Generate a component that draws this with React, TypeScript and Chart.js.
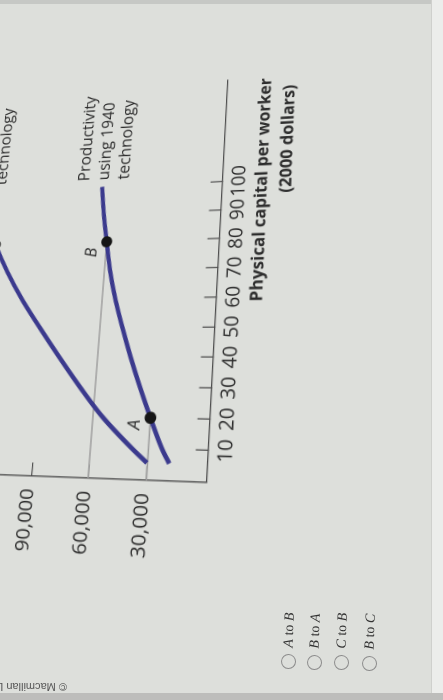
import React, { useEffect, useRef } from "react";
import { Chart, registerables } from "chart.js";

Chart.register(...registerables);

// ---------- data ----------
const capital1940 = [5.5, 10, 20, 30, 40, 50, 60, 70, 80, 90, 100];
const productivity1940 = [19000, 23000, 30000, 36500, 42500, 48000, 53000, 57000, 60000, 62800, 65000];
const capital2000 = [5.5, 10, 20, 30, 40, 50, 60, 70, 80, 90, 100];
const productivity2000 = [30300, 38500, 55000, 68500, 81000, 93000, 104500, 114500, 123000, 130000, 135000];
const pointNames = ["A", "B", "C"];
const pointCapital = [20, 80, 80];
const pointProductivity = [30000, 60000, 123000];
const guideLevels = [30000, 60000];
const guideEnds = [20, 80];
const xTickValues = [10, 20, 30, 40, 50, 60, 70, 80, 90, 100];
const yTickValues = [30000, 60000, 90000];
const xAxisMax = 137;
const yAxisMax = 140000;
const xTitleLines = ["Physical capital per worker", "(2000 dollars)"];
const label1940 = ["Productivity", "using 1940", "technology"];
const label2000 = ["Productivity", "using 2000", "technology"];
const answers = [
  ["A", "B"],
  ["B", "A"],
  ["C", "B"],
  ["B", "C"],
];

// ---------- layout (unrotated frame, then projected onto the photo) ----------
const FW = 760;
const FH = 550;
const PAD_TOP = 11.6;
const PAD_RIGHT = 109.7;
const Y_AXIS_W = 248;
const X_AXIS_H = 266.4;

// frame anchor -> screen anchor
const FRAME_ANCHORS = [
  [248, 283.6],
  [650.3, 283.6],
  [248, 108.7],
  [483, 167],
];
const SCREEN_ANCHORS = [
  [206.5, 482.5],
  [227.7, 80],
  [31.7, 476],
  [106.7, 241.7],
];

const ANSWER_POS = [
  [287.5, 661.7],
  [314.2, 663.3],
  [340.8, 663.3],
  [369.2, 664.2],
];

function homography(src: number[][], dst: number[][]): number[] {
  const A: number[][] = [];
  const b: number[] = [];
  for (let i = 0; i < 4; i++) {
    const [u, v] = src[i];
    const [x, y] = dst[i];
    A.push([u, v, 1, 0, 0, 0, -u * x, -v * x]);
    b.push(x);
    A.push([0, 0, 0, u, v, 1, -u * y, -v * y]);
    b.push(y);
  }
  const n = 8;
  for (let c = 0; c < n; c++) {
    let p = c;
    for (let r = c + 1; r < n; r++) if (Math.abs(A[r][c]) > Math.abs(A[p][c])) p = r;
    [A[c], A[p]] = [A[p], A[c]];
    [b[c], b[p]] = [b[p], b[c]];
    for (let r = 0; r < n; r++) {
      if (r === c) continue;
      const f = A[r][c] / A[c][c];
      for (let k = c; k < n; k++) A[r][k] -= f * A[c][k];
      b[r] -= f * b[c];
    }
  }
  return b.map((val, i) => val / A[i][i]);
}

const FONT = '"Open Sans", "Noto Sans", sans-serif';

const annotationPlugin = {
  id: "annotations",
  afterDatasetsDraw(chart: any) {
    const { ctx, chartArea } = chart;
    const xs = chart.scales.x;
    const ys = chart.scales.y;
    ctx.save();
    ctx.fillStyle = "#2c2c2c";
    // point names
    ctx.font = `italic 17px ${FONT}`;
    ctx.textAlign = "center";
    ctx.textBaseline = "middle";
    pointNames.forEach((name, i) => {
      const px = xs.getPixelForValue(pointCapital[i]);
      const py = ys.getPixelForValue(pointProductivity[i]);
      const dx = i === 0 ? -7 : -11;
      ctx.fillText(name, px + dx, py - 15);
    });
    // curve labels
    ctx.font = `17px ${FONT}`;
    ctx.textAlign = "left";
    const drawLabel = (lines: string[], vx: number, vy: number) => {
      const px = xs.getPixelForValue(vx) + 7;
      const py = ys.getPixelForValue(vy);
      lines.forEach((t, i) => ctx.fillText(t, px, py + 2 + (i - 1) * 21.5));
    };
    const l1 = capital1940.length - 1;
    const l2 = capital2000.length - 1;
    drawLabel(label1940, capital1940[l1], productivity1940[l1]);
    drawLabel(label2000, capital2000[l2], productivity2000[l2]);
    // x-axis title
    ctx.font = `bold 17px ${FONT}`;
    ctx.textAlign = "right";
    ctx.fillText(xTitleLines[0], chartArea.right - 1, chartArea.bottom + 40);
    ctx.fillText(xTitleLines[1], chartArea.right - 10, chartArea.bottom + 64);
    ctx.restore();
  },
};

const zeroPadding = (scale: any) => {
  scale.paddingTop = 0;
  scale.paddingBottom = 0;
  scale.paddingLeft = 0;
  scale.paddingRight = 0;
};

export default function App() {
  const ref = useRef<HTMLCanvasElement>(null);

  useEffect(() => {
    const canvas = ref.current;
    if (!canvas) return;
    const curve = (xs: number[], ys: number[]) => xs.map((x, i) => ({ x, y: ys[i] }));
    const curveStyle = {
      showLine: true,
      borderColor: "#3b3a8d",
      borderWidth: 4.5,
      pointRadius: 0,
      cubicInterpolationMode: "monotone",
      borderCapStyle: "butt",
      order: 1,
    };
    const chart = new Chart(canvas, {
      type: "scatter",
      data: {
        datasets: [
          {
            data: pointCapital.map((x, i) => ({ x, y: pointProductivity[i] })),
            showLine: false,
            pointRadius: 5.8,
            pointBackgroundColor: "#161616",
            pointBorderWidth: 0,
            order: 0,
          },
          { data: curve(capital1940, productivity1940), ...curveStyle },
          { data: curve(capital2000, productivity2000), ...curveStyle },
          ...guideLevels.map((lvl, i) => ({
            data: [
              { x: 0, y: lvl },
              { x: guideEnds[i], y: lvl },
            ],
            showLine: true,
            borderColor: "#9d9d9d",
            borderWidth: 1.5,
            pointRadius: 0,
            order: 2,
          })),
        ],
      },
      options: {
        animation: false,
        responsive: false,
        devicePixelRatio: 2,
        layout: { padding: { top: PAD_TOP, right: PAD_RIGHT, bottom: 0, left: 0 } },
        plugins: { legend: { display: false }, tooltip: { enabled: false } },
        events: [],
        scales: {
          x: {
            type: "linear",
            position: "bottom",
            min: 0,
            max: xAxisMax,
            afterBuildTicks: (scale: any) => {
              scale.ticks = xTickValues.map((value) => ({ value }));
            },
            afterFit: (scale: any) => {
              scale.height = X_AXIS_H;
              zeroPadding(scale);
            },
            ticks: {
              autoSkip: false,
              maxRotation: 0,
              minRotation: 0,
              padding: 18,
              color: "#2c2c2c",
              font: { family: FONT, size: 19 },
              callback: (v: any) => String(v),
            },
            grid: {
              drawOnChartArea: false,
              drawTicks: true,
              tickLength: -12,
              color: "#4d4d4d",
              lineWidth: 1.2,
            },
            border: { display: true, color: "#4d4d4d", width: 1.3 },
          },
          y: {
            type: "linear",
            position: "left",
            min: 0,
            max: yAxisMax,
            afterBuildTicks: (scale: any) => {
              scale.ticks = yTickValues.map((value) => ({ value }));
            },
            afterFit: (scale: any) => {
              scale.width = Y_AXIS_W;
              zeroPadding(scale);
            },
            ticks: {
              padding: 25,
              labelOffset: -2,
              color: "#2c2c2c",
              font: { family: FONT, size: 19 },
              callback: (v: any) => Number(v).toLocaleString("en-US"),
            },
            grid: {
              drawOnChartArea: false,
              drawTicks: true,
              tickLength: -13,
              color: "#4d4d4d",
              lineWidth: 1.2,
            },
            border: { display: true, color: "#4d4d4d", width: 1.3 },
          },
        },
      },
      plugins: [annotationPlugin],
    } as any);
    return () => chart.destroy();
  }, []);

  const h = homography(FRAME_ANCHORS, SCREEN_ANCHORS);
  const m = `matrix3d(${h[0]},${h[3]},0,${h[6]},${h[1]},${h[4]},0,${h[7]},0,0,1,0,${h[2]},${h[5]},0,1)`;

  return (
    <div
      style={{
        position: "fixed",
        left: 0,
        top: 0,
        width: 443,
        height: 700,
        overflow: "hidden",
        background: "#dddfdb",
      }}
    >
      <div
        style={{
          position: "absolute",
          left: 0,
          top: 0,
          width: FW,
          height: FH,
          transformOrigin: "0 0",
          transform: m,
        }}
      >
        <canvas ref={ref} width={FW} height={FH} style={{ display: "block", width: FW, height: FH }} />
      </div>

      {answers.map(([a, b], i) => (
        <div
          key={i}
          style={{
            position: "absolute",
            left: ANSWER_POS[i][0],
            top: ANSWER_POS[i][1],
            width: 0,
            height: 0,
            transformOrigin: "0 0",
            transform: "rotate(-88deg)",
          }}
        >
          <div
            style={{
              position: "absolute",
              left: -7.5,
              top: -7.5,
              width: 15,
              height: 15,
              borderRadius: "50%",
              border: "1.3px solid #8c8c8c",
              boxSizing: "border-box",
            }}
          />
          <div
            style={{
              position: "absolute",
              left: 14.5,
              top: -9,
              whiteSpace: "nowrap",
              font: '14px "Liberation Serif", serif',
              lineHeight: "18px",
              color: "#333",
            }}
          >
            <i>{a}</i> to <i>{b}</i>
          </div>
        </div>
      ))}

      <div
        style={{
          position: "absolute",
          left: 67,
          top: 693,
          transformOrigin: "0 0",
          transform: "rotate(180deg)",
          whiteSpace: "nowrap",
          font: '11px "Liberation Sans", sans-serif',
          lineHeight: "12px",
          color: "#555",
        }}
      >
        © Macmillan Learning
      </div>

      <div style={{ position: "absolute", left: 0, top: 0, width: 443, height: 4, background: "#c6c8c5" }} />
      <div
        style={{
          position: "absolute",
          left: 431,
          top: 0,
          width: 12,
          height: 700,
          background: "#ecedeb",
          borderLeft: "1px solid #cfd0cd",
        }}
      />
      <div style={{ position: "absolute", left: 0, top: 693, width: 443, height: 7, background: "#bdbdbb" }} />
    </div>
  );
}
